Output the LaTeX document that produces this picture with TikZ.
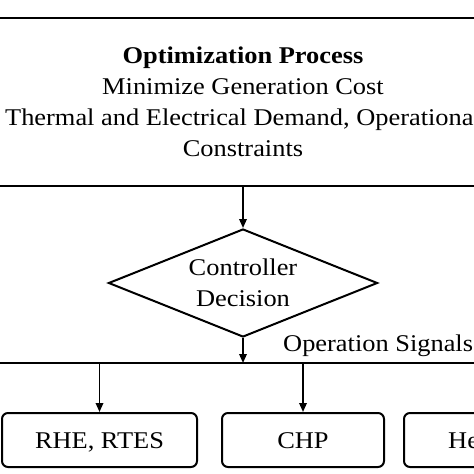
\documentclass[tikz,border=0pt]{standalone}
\usepackage{fontspec}
\setmainfont[FakeStretch=1.1]{Liberation Serif}
\usetikzlibrary{shapes.geometric,arrows.meta}
\newcommand\diagfont{\fontsize{24}{31}\selectfont}
\begin{document}
\begin{tikzpicture}[x=1pt,y=-1pt,
  every node/.style={font=\diagfont},
  bigbox/.style={draw, line width=2pt, rectangle, align=center, inner sep=0pt},
  decision/.style={draw, line width=2pt, diamond, aspect=2.49, minimum width=269pt, minimum height=108pt, inner sep=0pt, align=center},
  unit/.style={draw, line width=2pt, rectangle, rounded corners=6pt, minimum height=54pt, inner sep=0pt, text height=17pt, text depth=0pt},
  conn/.style={line width=1.7pt},
  arrow/.style={conn, -{Triangle[length=9pt,width=7.5pt]}},
]
\useasboundingbox (0,0) rectangle (474,474);
\clip (0,0) rectangle (474,474);
\fill[white] (0,0) rectangle (474,474);

\node[bigbox, minimum width=560pt, minimum height=168pt] (opt) at (243,102)
  {\textbf{Optimization Process}\\Minimize Generation Cost\\Thermal and Electrical Demand, Operational\\Constraints};

\node[decision] (dec) at (243,283) {Controller\\Decision};

\node[anchor=base west, inner sep=0pt] (sig) at (283,351) {Operation Signals};

\coordinate (busL) at (-10,363);
\coordinate (busR) at (484,363);
\coordinate (bus) at (243,363);

\node[unit, minimum width=195pt] (b1) at (99.5,440) {RHE, RTES};
\node[unit, minimum width=162pt] (b2) at (303,440) {CHP};
\node[unit, minimum width=200pt] (b3) at (504,440) {};
\node[anchor=base west, inner sep=0pt] (b3t) at (448,448.5) {Heat Pump};

\draw[arrow] (opt.south) -- (dec.north);
\draw[arrow] (dec.south) -- (bus);
\draw[conn] (busL) -- (busR);
\draw[arrow] (b1.north |- bus) -- (b1.north);
\draw[arrow] (b2.north |- bus) -- (b2.north);
\end{tikzpicture}
\end{document}
